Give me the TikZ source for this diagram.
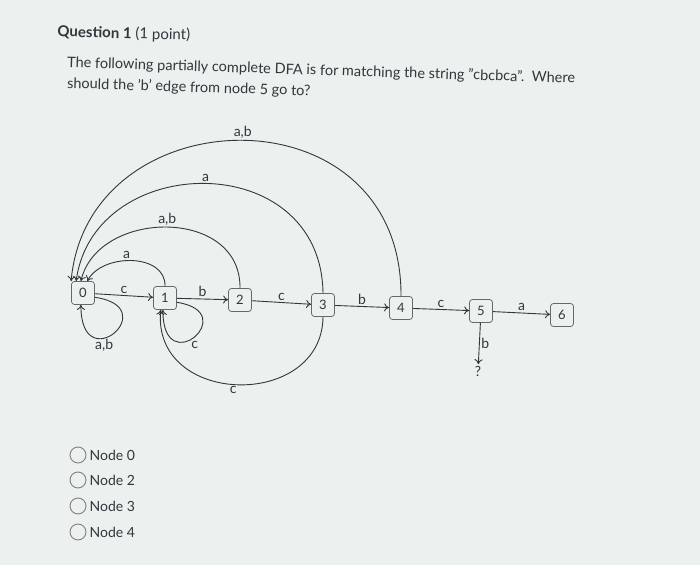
\documentclass[tikz,border=0pt]{standalone}
\usepackage{fontspec}
\setmainfont{Lato}
\usetikzlibrary{positioning, arrows.meta}
\definecolor{pagebg}{RGB}{236,240,239}
\definecolor{ink}{RGB}{50,55,60}
\definecolor{boxline}{RGB}{100,105,108}

\begin{document}
\begin{tikzpicture}[x=1pt, y=1pt,
  state/.style={draw=boxline, line width=0.8pt, rectangle, rounded corners=3pt, minimum width=23pt, minimum height=23pt, inner sep=0pt, font=\fontsize{13}{15}\selectfont, text=ink},
  lbl/.style={font=\fontsize{14}{16}\selectfont, text=ink, inner sep=1.5pt},
  edge/.style={-{To[length=5pt, width=8pt]}, draw=ink, line width=0.9pt},
  radio/.style={draw=gray, circle, line width=0.9pt, minimum size=16pt, inner sep=0pt},
  question/.style={anchor=west, rotate=-1.8, font=\fontsize{14.5}{17}\selectfont, text=ink, inner sep=0pt},
  option/.style={font=\fontsize{14}{16}\selectfont, text=ink, anchor=west, inner sep=0pt}]

  \fill[pagebg] (0,0) rectangle (700,565);
  \useasboundingbox (0,0) rectangle (700,565);

  % Question
  \node (title) [anchor=west, rotate=-1.5, font=\fontsize{15}{18}\selectfont, text=ink] at (54,533) {\textbf{Question 1} (1 point)};
  \node (line1) [question] at (67,502) {The following partially complete DFA is for matching the string \symbol{34}cbcbca\symbol{34}.\ \ Where};
  \node (line2) [question] at (67,481) {should the \symbol{39}b\symbol{39} edge from node 5 go to?};

  % Nodes
  \node (n0) [state] at (83,272) {0};
  \node (n1) [state] at (165,267) {1};
  \node (n2) [state] at (240,265) {2};
  \node (n3) [state] at (323,260) {3};
  \node (n4) [state] at (401,257) {4};
  \node (n5) [state] at (481,254) {5};
  \node (n6) [state] at (562,250) {6};
  \node (q) [lbl] at (478,194) {?};

  % Arrows
  \draw[edge] (n0) -- node[lbl, above] {c} (n1);
  \draw[edge] (n1) -- node[lbl, above] {b} (n2);
  \draw[edge] (n2) -- node[lbl, above] {c} (n3);
  \draw[edge] (n3) -- node[lbl, above] {b} (n4);
  \draw[edge] (n4) -- node[lbl, above] {c} (n5);
  \draw[edge] (n5) -- node[lbl, above] {a} (n6);
  \draw[edge] (n5) -- node[lbl, right] {b} (q);

  \draw[edge] (n0.-20) .. controls +(70,-10) and +(0,-75) .. (n0.-100) node[lbl, pos=0.5, below=4pt, xshift=-10pt] {a,b};
  \draw[edge] (n1.-20) .. controls +(66,-10) and +(0,-72) .. (n1.-100) node[lbl, pos=0.5, below=2pt] {c};

  \draw[edge] (n1.north) .. controls (166,312) and (102,312) .. (n0.70) node[lbl, pos=0.55, above] {a};
  \draw[edge] (n2.north) .. controls (241,358) and (98,356) .. (n0.100) node[lbl, pos=0.5, above] {a,b};
  \draw[edge] (n3.north) .. controls (321,418) and (94,414) .. (n0.120) node[lbl, pos=0.5, above] {a};
  \draw[edge] (n4.north) .. controls (402,478) and (88,470) .. (n0.135) node[lbl, pos=0.5, above] {a,b};
  \draw[edge] (n3.south) .. controls (322,155) and (152,158) .. (n1.-110) node[lbl, pos=0.52, below] {c};

  % Answers
  \node (r0) [radio] at (78,110) {};
  \node (r2) [radio] at (78,85) {};
  \node (r3) [radio] at (78,59) {};
  \node (r4) [radio] at (78,33) {};
  \node (o0) [option, right=3pt of r0] {Node 0};
  \node (o2) [option, right=3pt of r2] {Node 2};
  \node (o3) [option, right=3pt of r3] {Node 3};
  \node (o4) [option, right=3pt of r4] {Node 4};

\end{tikzpicture}
\end{document}
